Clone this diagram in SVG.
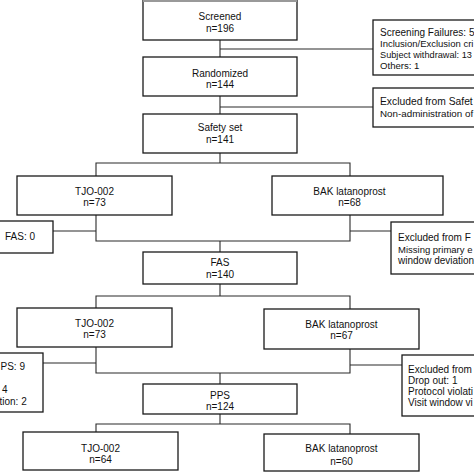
<svg xmlns="http://www.w3.org/2000/svg" width="474" height="474" viewBox="0 0 474 474">
<style>
.box{fill:#fff;stroke:#1a1a1a;stroke-width:1.3}
.c{fill:none;stroke:#2a2a2a;stroke-width:1.1}
text{font-family:"Liberation Sans",Arial,sans-serif;font-size:10px;fill:#111}
.m{text-anchor:middle}
.e{text-anchor:end}
</style>
<rect width="474" height="474" fill="#fff"/>
<g id="connectors">
<path class="c" d="M220 40V57M220 49H373"/>
<path class="c" d="M220 96V114M220 107H373"/>
<path class="c" d="M220 153V163M96 176V163H350V176"/>
<path class="c" d="M96 215V241H220M350 215V241H220M220 241V252M53 231H96M350 231H391"/>
<path class="c" d="M220 284V296M96 308V296H350V309"/>
<path class="c" d="M96 347V373H220M350 349V373H220M220 373V384M43 363H96M350 365H402"/>
<path class="c" d="M220 414V424M96 432V424H350V434"/>
</g>
<g id="screened"><rect class="box" x="143" y="0.5" width="154" height="39.5"/><rect x="143" y="0" width="154" height="2" fill="#999"/><text class="m" x="220" y="20">Screened</text><text class="m" x="220" y="31.5">n=196</text></g>
<g id="screening-failures"><rect class="box" x="373" y="20" width="110" height="55"/><text x="380" y="35.6">Screening Failures: 5</text><text x="380" y="46.5" style="font-size:9.5px">Inclusion/Exclusion cri</text><text x="380" y="57.5" style="font-size:9.2px">Subject withdrawal: 13</text><text x="380" y="68.5" style="font-size:9.6px">Others: 1</text></g>
<g id="randomized"><rect class="box" x="143" y="57" width="154" height="39"/><text class="m" x="220" y="77">Randomized</text><text class="m" x="220" y="88">n=144</text></g>
<g id="excluded-safety"><rect class="box" x="373" y="88" width="110" height="39"/><text x="380" y="105" style="font-size:10.3px">Excluded from Safet</text><text x="380" y="116.5" style="font-size:9.8px">Non-administration of</text></g>
<g id="safety-set"><rect class="box" x="143" y="114" width="154" height="39"/><text class="m" x="220" y="131">Safety set</text><text class="m" x="220" y="143">n=141</text></g>
<g id="tjo-1"><rect class="box" x="17" y="176" width="155" height="39"/><text class="m" x="94.5" y="195">TJO-002</text><text class="m" x="94.5" y="206">n=73</text></g>
<g id="bak-1"><rect class="box" x="272" y="176" width="171" height="39"/><text class="m" x="349.5" y="195">BAK latanoprost</text><text class="m" x="349.5" y="206">n=68</text></g>
<g id="fas-0"><rect class="box" x="-10" y="221" width="63" height="32"/><text x="5" y="240">FAS: 0</text></g>
<g id="excluded-fas"><rect class="box" x="391" y="222" width="92" height="52"/><text x="398" y="241">Excluded from F</text><text x="398" y="252.5" style="font-size:9.5px">Missing primary e</text><text x="398" y="263.5">window deviation</text></g>
<g id="fas"><rect class="box" x="143" y="252" width="154" height="32"/><text class="m" x="220" y="266">FAS</text><text class="m" x="220" y="278">n=140</text></g>
<g id="tjo-2"><rect class="box" x="17" y="308" width="155" height="39"/><text class="m" x="94.5" y="327">TJO-002</text><text class="m" x="94.5" y="337.5">n=73</text></g>
<g id="bak-2"><rect class="box" x="264" y="309" width="155" height="40"/><text class="m" x="341.5" y="328">BAK latanoprost</text><text class="m" x="341.5" y="339">n=67</text></g>
<g id="excluded-pps-left"><rect class="box" x="-10" y="353" width="53" height="59"/><text x="0.5" y="370">PS: 9</text><text class="e" x="7.5" y="393">4</text><text class="e" x="26.7" y="404.5">tion: 2</text></g>
<g id="excluded-pps-right"><rect class="box" x="402" y="355" width="81" height="61"/><text x="408" y="372.5">Excluded from</text><text x="408" y="383.5">Drop out: 1</text><text x="408" y="394.5">Protocol violati</text><text x="408" y="406">Visit window vi</text></g>
<g id="pps"><rect class="box" x="143" y="384" width="154" height="30"/><text class="m" x="220" y="399">PPS</text><text class="m" x="220" y="410">n=124</text></g>
<g id="tjo-3"><rect class="box" x="23" y="432" width="155" height="38"/><text class="m" x="100.5" y="452">TJO-002</text><text class="m" x="100.5" y="463">n=64</text></g>
<g id="bak-3"><rect class="box" x="264" y="434" width="155" height="37"/><text class="m" x="341.5" y="452">BAK latanoprost</text><text class="m" x="341.5" y="465">n=60</text></g>
</svg>
